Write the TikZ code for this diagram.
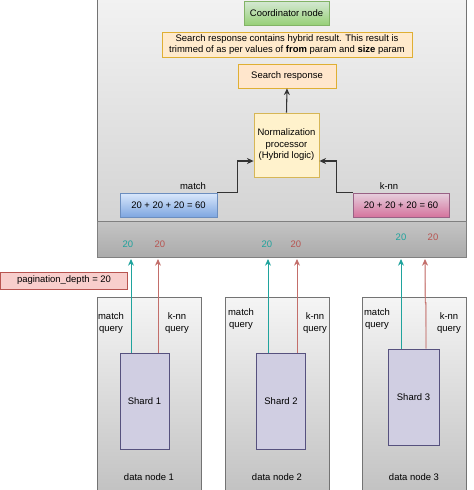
\documentclass[tikz,border=0pt]{standalone}
\usepackage{fontspec}
\setmainfont{Liberation Sans}
\usetikzlibrary{arrows.meta,calc}
\definecolor{teal1}{HTML}{1FA39D}
\definecolor{red1}{HTML}{B85450}
\definecolor{gtop}{HTML}{D5E8D4}\definecolor{gbot}{HTML}{97D077}\definecolor{gdr}{HTML}{82B366}
\definecolor{btop}{HTML}{DAE8FC}\definecolor{bbot}{HTML}{7EA6E0}\definecolor{bdr}{HTML}{6C8EBF}
\definecolor{ptop}{HTML}{E6D0DE}\definecolor{pbot}{HTML}{D5739D}\definecolor{pdr}{HTML}{996185}
\definecolor{shf}{HTML}{D0CEE2}\definecolor{shd}{HTML}{56517E}
\definecolor{of}{HTML}{FFE6CC}\definecolor{od}{HTML}{D79B00}
\definecolor{yf}{HTML}{FFF2CC}\definecolor{yd}{HTML}{D6B656}
\definecolor{rf}{HTML}{F8CECC}
\tikzset{
  txt/.style={font=\fontsize{7.1}{8.6}\selectfont, inner sep=0pt, align=center},
  boxbase/.style={txt, draw, line width=0.6pt},
  arr/.style={-{Stealth[length=5pt,width=4.5pt]}, line width=0.8pt, draw=black!80},
  tarr/.style={-{Stealth[length=5pt,width=4.5pt]}, line width=0.7pt, draw=teal1, fill=teal1},
  rarr/.style={-{Stealth[length=5pt,width=4.5pt]}, line width=0.7pt, draw=red1!85, fill=red1!85},
  datanode/.style={draw=black!55, line width=0.6pt, top color=black!4, bottom color=black!24},
  shardbox/.style={boxbase, draw=shd, fill=shf, minimum width=36.75pt, minimum height=72pt},
}
\begin{document}
\begin{tikzpicture}[x=0.75pt,y=-0.75pt]
\useasboundingbox (0,0) rectangle (474,490);
% coordinator panel
\path[draw=black!55, line width=0.6pt, top color=black!5, bottom color=black!17] (97,-3) rectangle (466,221);
\path[draw=black!50, line width=0.7pt, top color=black!23, bottom color=black!33] (97,221) rectangle (466,257);
% coordinator node
\node[boxbase, draw=gdr, top color=gtop, bottom color=gbot, minimum width=63.75pt, minimum height=18pt] (cn) at (286.5,13) {Coordinator node};
\node[boxbase, draw=od!80, fill=of!70!yf, minimum width=187.5pt, minimum height=18.75pt] (tb) at (287,44.5) {Search response contains hybrid result. This result is\\trimmed of as per values of \textbf{from} param and \textbf{size} param};
\node[boxbase, draw=od!80, fill=of, minimum width=73.5pt, minimum height=18pt] (sr) at (287,76) {Search response};
\node[boxbase, draw=yd, fill=yf, minimum width=48.75pt, minimum height=48pt] (norm) at (286.5,145) {Normalization\\processor\\(Hybrid logic)};
\node[boxbase, draw=bdr, top color=btop, bottom color=bbot, minimum width=72.75pt, minimum height=18pt] (mb) at (168.5,205) {20 + 20 + 20 = 60};
\node[boxbase, draw=pdr, top color=ptop, bottom color=pbot, minimum width=72pt, minimum height=18pt] (kb) at (401,205) {20 + 20 + 20 = 60};
\node[txt] (ml) at (193,186.5) {match};
\node[txt] (kl) at (389,186.5) {k-nn};
\draw[arr] (norm.north) -- (sr.south);
\draw[arr] (mb.north east) -- ++(20,0) |- ([yshift=-12pt]norm.west);
\draw[arr] (kb.north west) -- ++(-16,0) |- ([yshift=-12pt]norm.east);
% band labels
\node[txt, text=teal1] (a1) at (128,244) {20};
\node[txt, text=red1] (b1) at (160,244) {20};
\node[txt, text=teal1] (a2) at (267,244) {20};
\node[txt, text=red1] (b2) at (296,244) {20};
\node[txt, text=teal1] (a3) at (401,237) {20};
\node[txt, text=red1] (b3) at (433,237) {20};
% pagination
\node[boxbase, draw=red1, fill=rf, minimum width=95.25pt, minimum height=12.75pt] (pg) at (64,280.5) {pagination\_depth = 20};
% data nodes
\path[datanode] (97,297) rectangle (201,493);
\path[datanode] (225,297) rectangle (329,493);
\path[datanode] (362,297) rectangle (466,493);
\node[txt] (d1) at (149,477) {data node 1};
\node[txt] (d2) at (277,477) {data node 2};
\node[txt] (d3) at (414,477) {data node 3};
\node[txt] (mq1) at (111,323) {match\\query};
\node[txt] (kq1) at (177,323) {k-nn\\query};
\node[txt] (mq2) at (241,319) {match\\query};
\node[txt] (kq2) at (315,323) {k-nn\\query};
\node[txt] (mq3) at (377,319) {match\\query};
\node[txt] (kq3) at (449,323) {k-nn\\query};
% shards
\node[shardbox] (s1) at (144.5,401) {Shard 1};
\node[shardbox] (s2) at (281,401) {Shard 2};
\node[shardbox, minimum width=38.25pt] (s3) at (413.5,397) {Shard 3};
% arrows
\coordinate (t1) at (131,259); \coordinate (r1) at (158,259);
\coordinate (t2) at (268,259); \coordinate (r2) at (297,259);
\coordinate (t3) at (401,259); \coordinate (r3) at (425,259);
\draw[tarr] (s1.north -| t1) -- (t1);
\draw[rarr] (s1.north -| r1) -- (r1);
\draw[tarr] (s2.north -| t2) -- (t2);
\draw[rarr] (s2.north -| r2) -- (r2);
\draw[tarr] (s3.north -| t3) -- (t3);
\draw[rarr] ([xshift=0.75pt]s3.north -| r3) -- ++(0,-46) -- ++(-0.75,0) -- (r3);
\end{tikzpicture}
\end{document}
